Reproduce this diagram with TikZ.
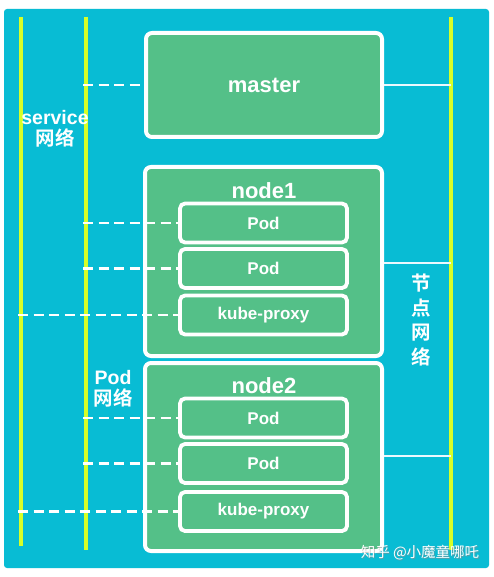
\documentclass[tikz,border=0pt]{standalone}
\usepackage{fontspec}
\setmainfont{Liberation Sans}
\newfontfamily\cjk{Noto Sans CJK SC}[BoldFont={Noto Sans CJK SC Bold}]
\definecolor{bgcyan}{RGB}{8,188,212}
\definecolor{boxgreen}{RGB}{84,192,136}
\definecolor{netyellow}{RGB}{214,255,40}
\tikzset{
  bigbox/.style={draw=white, line width=4pt, fill=boxgreen, rounded corners=6pt, inner sep=0pt},
  podbox/.style={draw=white, line width=3.8pt, fill=boxgreen, rounded corners=5pt, inner sep=0pt,
     minimum width=167pt, minimum height=39pt, text=white, font=\bfseries\fontsize{17}{19}\selectfont},
  netline/.style={draw=netyellow, line width=3.2pt},
  dashline/.style={draw=white, line width=2.8pt, dash pattern=on 10pt off 5.5pt},
  solidline/.style={draw=white!92!cyan, line width=2.8pt},
  sidelabel/.style={text=white, font=\bfseries\fontsize{19.5}{21}\selectfont, align=center, inner sep=0pt},
  biglabel/.style={text=white, font=\bfseries\fontsize{22}{24}\selectfont, inner sep=0pt},
}
\begin{document}
\begin{tikzpicture}[x=1pt,y=-1pt]
\useasboundingbox (0,0) rectangle (493,577);
\fill[white] (0,0) rectangle (493,577);
\fill[bgcyan, rounded corners=3pt] (4,9) rectangle (489,568);
% network lines
\coordinate (s1t) at (21,17); \coordinate (s1b) at (21,546);
\coordinate (s2t) at (86,17); \coordinate (s2b) at (86,550);
\coordinate (s3t) at (451,17); \coordinate (s3b) at (451,550);
\draw[netline] (s1t) -- (s1b);
\draw[netline] (s2t) -- (s2b);
\draw[netline] (s3t) -- (s3b);
% big boxes
\node[bigbox, biglabel, minimum width=236pt, minimum height=104pt] (master) at (264,85) {master};
\node[bigbox, minimum width=237pt, minimum height=189pt] (node1) at (263.5,261.5) {};
\node[bigbox, minimum width=237pt, minimum height=188pt] (node2) at (263.5,457) {};
\node[biglabel] (n1lab) at (264,191) {node1};
\node[biglabel] (n2lab) at (264,386) {node2};
% dash start coordinates
\coordinate (dm) at (83,85);
\coordinate (d1a) at (83,223);
\coordinate (d1b) at (83,268.5);
\coordinate (d1c) at (18,315);
\coordinate (d2a) at (83,418);
\coordinate (d2b) at (83,463.5);
\coordinate (d2c) at (18,511.5);
% right connection points
\coordinate (rm) at (451,85);
\coordinate (r1) at (451,263);
\coordinate (r2) at (451,456);
\draw[solidline] (master.east) -- (rm);
\draw[solidline] (node1.east |- r1) -- (r1);
\draw[solidline] (node2.east |- r2) -- (r2);
% dashed lines
\draw[dashline] (dm) -- (master.west);
\draw[dashline] (d1a) -- (263.5,223);
\draw[dashline] (d1b) -- (263.5,268.5);
\draw[dashline] (d1c) -- (263.5,315);
\draw[dashline] (d2a) -- (263.5,418);
\draw[dashline] (d2b) -- (263.5,463.5);
\draw[dashline] (d2c) -- (263.5,511.5);
% pods
\node[podbox] (p1a) at (263.5,223) {Pod};
\node[podbox] (p1b) at (263.5,268.5) {Pod};
\node[podbox] (p1c) at (263.5,315) {kube-proxy};
\node[podbox] (p2a) at (263.5,418) {Pod};
\node[podbox] (p2b) at (263.5,463.5) {Pod};
\node[podbox] (p2c) at (263.5,511.5) {kube-proxy};
% side labels
\node[sidelabel] (svc) at (55,129) {service\\[0pt]{\cjk\bfseries 网络}};
\node[sidelabel] (podnet) at (113,389) {Pod\\[0pt]{\cjk\bfseries 网络}};
\node[sidelabel, font=\cjk\bfseries\fontsize{19.5}{24.5}\selectfont] (nodenet) at (421,320) {节\\点\\网\\络};
% watermark
\node[text=black!45, opacity=0.6, font=\cjk\fontsize{14.5}{16}\selectfont, inner sep=0pt] (wmsh) at (420.8,553.8) {知乎 @小魔童哪吒};
\node[text=white, font=\cjk\fontsize{14.5}{16}\selectfont, inner sep=0pt] (wm) at (420,553) {知乎 @小魔童哪吒};
\end{tikzpicture}
\end{document}
